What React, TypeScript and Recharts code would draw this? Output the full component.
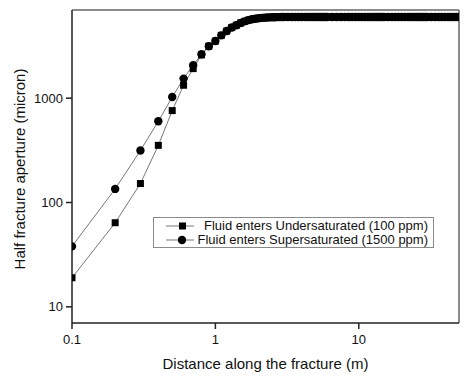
import { LineChart, Line, XAxis, YAxis, Legend, ReferenceLine } from 'recharts';

// distance along the fracture (m)
const distance = [
  0.1, 0.2, 0.3, 0.4, 0.5, 0.6, 0.7, 0.8, 0.9, 1.0,
  1.1, 1.2, 1.3, 1.4, 1.5, 1.6, 1.7, 1.8, 1.9, 2.0,
  2.1, 2.2, 2.3, 2.4, 2.5, 2.6, 2.7, 2.8, 2.9, 3.0,
  3.2, 3.4, 3.6, 3.8, 4.0, 4.2, 4.4, 4.6, 4.8, 5.0,
  5.2, 5.4, 5.6, 5.8, 6.0, 6.5, 7.0, 7.5, 8.0, 8.5,
  9.0, 9.5, 10, 10.5, 11, 11.5, 12, 12.5, 13, 13.5,
  14, 14.5, 15, 16, 17, 18, 19, 20, 21, 22,
  23, 24, 25, 26, 27, 28, 29, 30, 32, 34,
  36, 38, 40, 42, 44, 46, 48, 50,
];

// half fracture aperture (micron)
const undersaturated = [
  19, 64, 152, 353, 760, 1330, 1920, 2600, 3150, 3530,
  4000, 4400, 4750, 5000, 5250, 5450, 5600, 5700, 5780, 5840,
  5880, 5910, 5930, 5950, 5960, 5970, 5980, 5985, 5990, 5995,
  6000, 6000, 6000, 6000, 6000, 6000, 6000, 6000, 6000, 6000,
  6000, 6000, 6000, 6000, 6000, 6000, 6000, 6000, 6000, 6000,
  6000, 6000, 6000, 6000, 6000, 6000, 6000, 6000, 6000, 6000,
  6000, 6000, 6000, 6000, 6000, 6000, 6000, 6000, 6000, 6000,
  6000, 6000, 6000, 6000, 6000, 6000, 6000, 6000, 6000, 6000,
  6000, 6000, 6000, 6000, 6000, 6000, 6000, 6000,
];

const supersaturated = [
  38, 135, 315, 600, 1025, 1540, 2070, 2640, 3150, 3530,
  4000, 4400, 4750, 5000, 5250, 5450, 5600, 5700, 5780, 5840,
  5880, 5910, 5930, 5950, 5960, 5970, 5980, 5985, 5990, 5995,
  6000, 6000, 6000, 6000, 6000, 6000, 6000, 6000, 6000, 6000,
  6000, 6000, 6000, 6000, 6000, 6000, 6000, 6000, 6000, 6000,
  6000, 6000, 6000, 6000, 6000, 6000, 6000, 6000, 6000, 6000,
  6000, 6000, 6000, 6000, 6000, 6000, 6000, 6000, 6000, 6000,
  6000, 6000, 6000, 6000, 6000, 6000, 6000, 6000, 6000, 6000,
  6000, 6000, 6000, 6000, 6000, 6000, 6000, 6000,
];

const xTicks = [0.1, 1, 10];
const yTicks = [10, 100, 1000];

const data = distance.map((x, i) => ({
  x,
  under: undersaturated[i],
  super: supersaturated[i],
}));

const FONT = '"Liberation Sans", Arial, sans-serif';

const SquareDot = (props: any) => {
  const { cx, cy } = props;
  if (cx == null || cy == null) return null;
  return <rect x={cx - 3.5} y={cy - 3.5} width={7} height={7} fill="#000" />;
};

const CircleDot = (props: any) => {
  const { cx, cy } = props;
  if (cx == null || cy == null) return null;
  return <circle cx={cx} cy={cy} r={4.2} fill="#000" />;
};

const XTitle = (props: any) => {
  const vb = props.viewBox || { x: 72, y: 323, width: 387, height: 56 };
  return (
    <text x={vb.x + vb.width / 2} y={369} textAnchor="middle" fontSize={15} fill="#111" fontFamily={FONT}>
      Distance along the fracture (m)
    </text>
  );
};

const YTitle = (props: any) => {
  const vb = props.viewBox || { x: 0, y: 10, width: 72, height: 313 };
  const cx = 25;
  const cy = vb.y + vb.height / 2 + 2.5;
  return (
    <text x={cx} y={cy} transform={`rotate(-90, ${cx}, ${cy})`} textAnchor="middle" fontSize={15} fill="#111" fontFamily={FONT}>
      Half fracture aperture (micron)
    </text>
  );
};

const legendItems = [
  { label: 'Fluid enters Undersaturated (100 ppm)', marker: 'square' },
  { label: 'Fluid enters Supersaturated (1500 ppm)', marker: 'circle' },
];

const LegendBox = () => (
  <div
    style={{
      border: '1px solid #8a8a8a',
      background: '#fff',
      padding: '1px 5px 2px 11px',
      fontFamily: FONT,
      fontSize: 13,
      color: '#111',
      boxSizing: 'border-box',
      width: 281,
      height: 31,
    }}
  >
    {legendItems.map((it) => (
      <div key={it.label} style={{ display: 'flex', alignItems: 'center', height: 14, lineHeight: '14px' }}>
        <svg width={30} height={10} style={{ flex: 'none' }}>
          <line x1={1} y1={5} x2={29} y2={5} stroke="#777" strokeWidth={1} />
          {it.marker === 'square' ? (
            <rect x={14} y={1.5} width={7} height={7} fill="#000" />
          ) : (
            <circle cx={17} cy={5} r={4.2} fill="#000" />
          )}
        </svg>
        <span style={{ flex: 1, textAlign: 'right' }}>{it.label}</span>
      </div>
    ))}
  </div>
);

export default function App() {
  return (
    <div style={{ position: 'absolute', left: 0, top: 0, width: 474, height: 379, background: '#fff' }}>
      <LineChart width={474} height={379} data={data} margin={{ top: 10, right: 15, bottom: 0, left: 0 }}>
        <XAxis
          dataKey="x"
          type="number"
          scale="log"
          domain={[0.1, 50]}
          allowDataOverflow
          ticks={xTicks}
          height={56}
          tickSize={6}
          tickMargin={6}
          tickFormatter={(v) => String(v)}
          tick={{ fill: '#111', fontSize: 13, fontFamily: FONT }}
          axisLine={{ stroke: '#222', strokeWidth: 1.5 }}
          tickLine={{ stroke: '#222', strokeWidth: 1.5 }}
          label={<XTitle />}
        />
        <YAxis
          type="number"
          scale="log"
          domain={[7, 7000]}
          allowDataOverflow
          ticks={yTicks}
          width={72}
          tickSize={6}
          tickMargin={3}
          tick={{ fill: '#111', fontSize: 13, fontFamily: FONT }}
          axisLine={{ stroke: '#222', strokeWidth: 1.5 }}
          tickLine={{ stroke: '#222', strokeWidth: 1.5 }}
          label={<YTitle />}
        />
        <ReferenceLine y={7000} stroke="#666" strokeWidth={1.5} />
        <ReferenceLine x={50} stroke="#666" strokeWidth={1.5} />
        <Line
          dataKey="under"
          name="Fluid enters Undersaturated (100 ppm)"
          stroke="#777"
          strokeWidth={1}
          dot={<SquareDot />}
          isAnimationActive={false}
        />
        <Line
          dataKey="super"
          name="Fluid enters Supersaturated (1500 ppm)"
          stroke="#777"
          strokeWidth={1}
          dot={<CircleDot />}
          isAnimationActive={false}
        />
        <Legend
          layout="vertical"
          align="center"
          verticalAlign="middle"
          content={<LegendBox />}
          wrapperStyle={{ left: 153, top: 217, width: 281 }}
        />
      </LineChart>
    </div>
  );
}
